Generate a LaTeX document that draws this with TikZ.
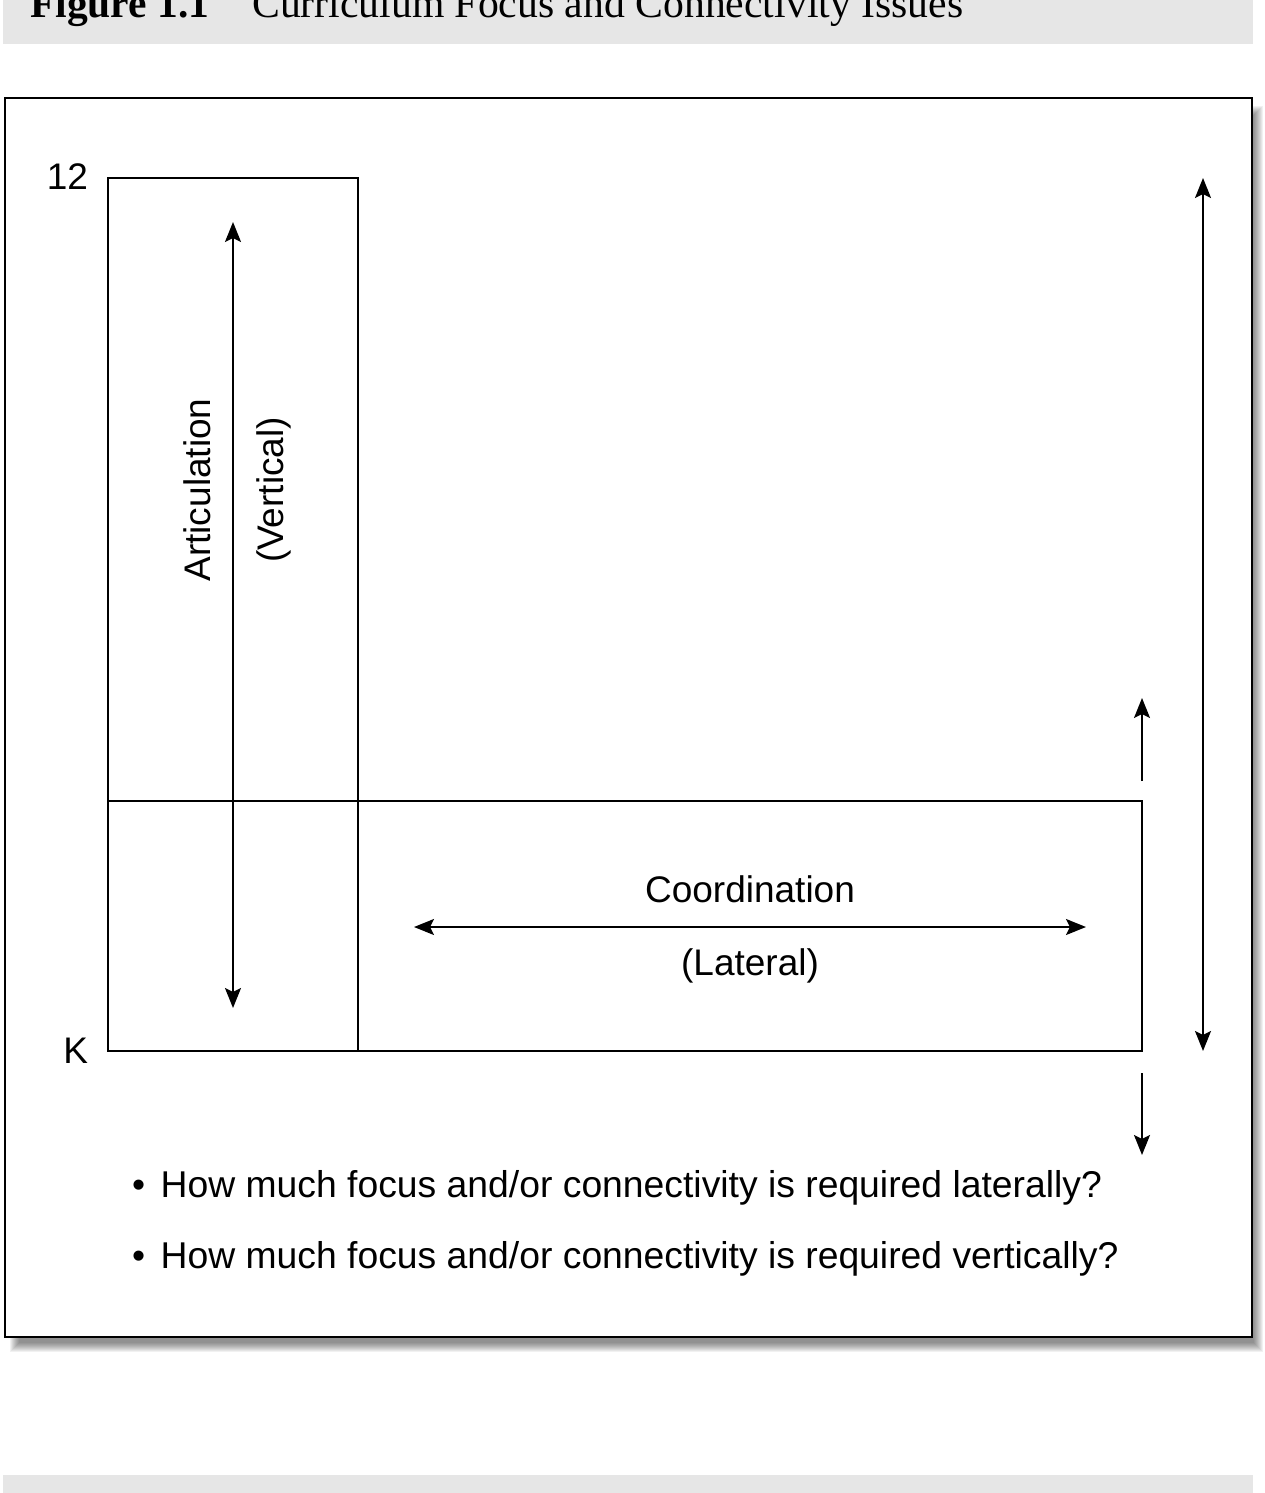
\documentclass[tikz,border=0pt]{standalone}
\usepackage{fontspec}
\setmainfont{Liberation Sans}
\newfontfamily\titlefont{Liberation Serif}
\usetikzlibrary{arrows.meta}
\definecolor{bandgray}{HTML}{E6E6E6}
\tikzset{
  box/.style={draw, line width=2pt, inner sep=0pt, outer sep=0pt, anchor=north west},
  frame/.style={draw, line width=2.6pt, fill=white, inner sep=0pt, outer sep=0pt, anchor=north west},
  lbl/.style={inner sep=0pt, outer sep=0pt, font=\fontsize{37}{44}\selectfont},
  qlbl/.style={inner sep=0pt, outer sep=0pt, font=\fontsize{37.3}{44}\selectfont},
  arr/.style={line width=2pt, -{Stealth[length=20pt, width=16pt, inset=4pt]}},
  darr/.style={line width=2pt, {Stealth[length=20pt, width=16pt, inset=4pt]}-{Stealth[length=20pt, width=16pt, inset=4pt]}},
}
\begin{document}
\begin{tikzpicture}[x=1pt,y=-1pt]
\useasboundingbox (0,0) rectangle (1265,1493);
% header band
\fill[bandgray] (3,0) rectangle (1253,44);
\node[inner sep=0pt, anchor=base west, font=\titlefont\fontsize{41.5}{48}\selectfont\bfseries] (fig) at (30,18) {Figure 1.1};
\node[inner sep=0pt, anchor=base west, font=\titlefont\fontsize{41.7}{48}\selectfont] (title) at (252,18) {Curriculum Focus and Connectivity Issues};
% footer band
\fill[bandgray] (3,1475) rectangle (1253,1493);
% shadow
\foreach \r in {0,1,...,9}
  \fill[black, opacity=0.055] (10+\r,106+\r) rectangle (1263-\r,1352-\r);
% frame
\node[frame, minimum width=1247pt, minimum height=1239pt] (frame) at (5,98) {};
% rectangles
\node[box, minimum width=250pt, minimum height=873pt] (vbox) at (108,178) {};
\node[box, minimum width=1034pt, minimum height=250pt] (hbox) at (108,801) {};
% axis labels
\node[lbl, anchor=base east] (twelve) at (88,189) {12};
\node[lbl, anchor=base east] (kk) at (88,1063) {K};
% vertical articulation arrow
\coordinate (vtop) at (233,222);
\coordinate (vbot) at (233,1008);
\draw[darr] (vbot) -- (vtop);
\node[lbl, rotate=90, anchor=base] (artic) at (210,490) {Articulation};
\node[lbl, rotate=90, anchor=base] (vert) at (283,490) {(Vertical)};
% lateral coordination arrow
\coordinate (hl) at (414,927);
\coordinate (hr) at (1086,927);
\draw[darr] (hl) -- (hr);
\node[lbl, anchor=base] (coord) at (750,902) {Coordination};
\node[lbl, anchor=base] (lat) at (750,975) {(Lateral)};
% small arrows at right edge of horizontal box
\coordinate (upa) at (1142,781);
\coordinate (upb) at (1142,698);
\draw[arr] (upa) -- (upb);
\coordinate (dna) at (1142,1073);
\coordinate (dnb) at (1142,1155);
\draw[arr] (dna) -- (dnb);
% long right arrow
\coordinate (rt) at (1203,178);
\coordinate (rb) at (1203,1051);
\draw[darr] (rb) -- (rt);
% questions
\node[qlbl, anchor=base west] (q1) at (132,1197) {\textbullet\hspace{0.42em}How much focus and/or connectivity is required laterally?};
\node[qlbl, anchor=base west] (q2) at (132,1268) {\textbullet\hspace{0.42em}How much focus and/or connectivity is required vertically?};
\end{tikzpicture}
\end{document}
